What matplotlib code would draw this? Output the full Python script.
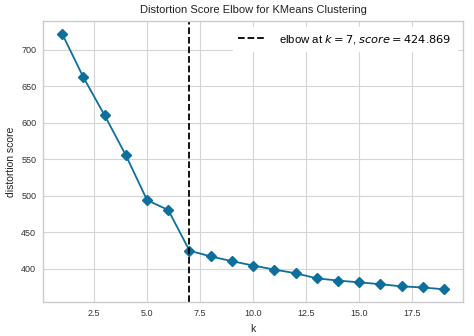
import matplotlib
matplotlib.use("Agg")
from matplotlib import pyplot as plt

k_values = list(range(1, 20))
distortion = [721.5, 662, 610, 555.5, 494, 480.5, 424.869, 417, 410.5, 404.5,
              399, 394, 387, 384, 381.5, 379, 376, 374.5, 372]
elbow_k = 7
elbow_score = 424.869

line_color = "#0e6f9c"

plt.rcParams["font.family"] = ["Liberation Sans", "DejaVu Sans"]
plt.rcParams["mathtext.fontset"] = "dejavusans"

fig, ax = plt.subplots(figsize=(4.74, 3.36), dpi=100)
fig.patch.set_facecolor("white")
ax.set_facecolor("white")

ax.plot(k_values, distortion, marker="D", color=line_color, lw=1.3, ms=5)
ax.axvline(elbow_k, color="black", ls="--", lw=1.3,
           label=r"elbow at $k = %d$, $score = %.3f$" % (elbow_k, elbow_score))

ax.grid(True, color="#d5d5d5", lw=0.8)
ax.set_axisbelow(True)
for s in ax.spines.values():
    s.set_color("#cccccc")
    s.set_linewidth(1.0)
ax.tick_params(length=0, labelsize=6.5, colors="#333333", pad=5)

ax.set_title("Distortion Score Elbow for KMeans Clustering", fontsize=8, color="#222222")
ax.set_xlabel("k", fontsize=7.5, color="#222222")
ax.set_ylabel("distortion score", fontsize=7.5, color="#222222")

leg = ax.legend(loc="upper right", fontsize=8.2, frameon=True, fancybox=False,
                edgecolor="white", framealpha=1.0, borderpad=0.5,
                handlelength=2.4, handletextpad=1.2)

plt.subplots_adjust(left=0.091, right=0.977, top=0.937, bottom=0.101)
plt.savefig("out.png", dpi=100)
